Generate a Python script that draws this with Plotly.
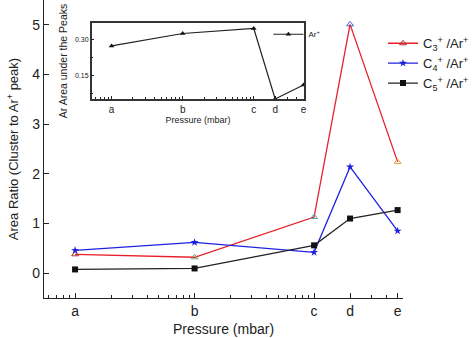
import plotly.graph_objects as go

# Data
categories = ["a", "b", "c", "d", "e"]
pressure = [1e-4, 1e-3, 1e-2, 2e-2, 5e-2]   # log positions of the labelled pressures
c3 = [0.38, 0.32, 1.13, 5.01, 2.24]
c4 = [0.46, 0.62, 0.42, 2.14, 0.85]
c5 = [0.075, 0.095, 0.56, 1.10, 1.27]
ar = [0.275, 0.327, 0.348, 0.054, 0.112]
c3_marker_colors = ["#b03030", "#70a070", "#50a0a8", "#5060d0", "#e8a040"]

FONT = "Liberation Sans, Arial, Helvetica, sans-serif"

minor_vals = [m * 10 ** e for e in range(-5, -1) for m in range(2, 10)]
minor_vals = [v for v in minor_vals if 5.5e-5 <= v <= 5.2e-2]

fig = go.Figure()

fig.add_trace(go.Scatter(
    x=pressure, y=c3, mode="lines+markers", name="C<sub>3</sub><sup>+</sup> /Ar<sup>+</sup>",
    line=dict(color="#e8202a", width=1.3),
    marker=dict(symbol="triangle-up-open", size=6, color=c3_marker_colors,
                line=dict(color=c3_marker_colors, width=1)),
    legend="legend"))
fig.add_trace(go.Scatter(
    x=pressure, y=c4, mode="lines+markers", name="C<sub>4</sub><sup>+</sup> /Ar<sup>+</sup>",
    line=dict(color="#2020e0", width=1.3),
    marker=dict(symbol="star", size=6, color="#2020e0"),
    legend="legend"))
fig.add_trace(go.Scatter(
    x=pressure, y=c5, mode="lines+markers", name="C<sub>5</sub><sup>+</sup> /Ar<sup>+</sup>",
    line=dict(color="#222222", width=1.3),
    marker=dict(symbol="square", size=6, color="#111111"),
    legend="legend"))

fig.add_trace(go.Scatter(
    x=pressure, y=ar, mode="lines+markers", name="Ar<sup>+</sup>",
    line=dict(color="#222222", width=1.2),
    marker=dict(symbol="triangle-up", size=5, color="#111111"),
    xaxis="x2", yaxis="y2", legend="legend2", cliponaxis=False))

fig.update_layout(
    width=474, height=338,
    margin=dict(l=44, r=62, t=0, b=40),
    paper_bgcolor="white", plot_bgcolor="white",
    font=dict(family=FONT, color="#222222"),
    xaxis=dict(
        type="log", range=[-4.26, -1.256],
        tickvals=pressure, ticktext=categories,
        ticks="inside", ticklen=5, tickwidth=1, tickcolor="#222",
        minor=dict(tickvals=minor_vals, ticks="inside", ticklen=3, tickcolor="#222"),
        showline=True, linecolor="#222", linewidth=1.3, mirror=False,
        showgrid=False, zeroline=False,
        tickfont=dict(size=14),
        title=dict(text="Pressure (mbar)", font=dict(size=14), standoff=6),
    ),
    yaxis=dict(
        range=[-0.5, 5.5], tickvals=[0, 1, 2, 3, 4, 5],
        ticks="inside", ticklen=5, tickcolor="#222",
        showline=True, linecolor="#222", linewidth=1.3, mirror=False,
        showgrid=False, zeroline=False,
        tickfont=dict(size=14),
        title=dict(text="Area Ratio (Cluster to Ar<sup>+</sup> peak)", font=dict(size=13), standoff=10),
    ),
    xaxis2=dict(
        domain=[0.133, 0.7255], anchor="y2",
        type="log", range=[-4.279, -1.287],
        tickvals=pressure, ticktext=categories,
        ticks="inside", ticklen=3, tickcolor="#222",
        minor=dict(tickvals=[v for v in minor_vals if v > 5.3e-5], ticks="inside", ticklen=2, tickcolor="#222"),
        showline=True, linecolor="#333", linewidth=1.5, mirror=True,
        showgrid=False, zeroline=False,
        tickfont=dict(size=10),
        title=dict(text="Pressure (mbar)", font=dict(size=9), standoff=2),
    ),
    yaxis2=dict(
        domain=[0.668, 0.923], anchor="x2",
        range=[0.054, 0.371], tickvals=[0.15, 0.30], tickformat=".2f",
        ticks="inside", ticklen=3, tickcolor="#222",
        minor=dict(tickvals=[0.075, 0.225], ticks="inside", ticklen=2, tickcolor="#222"),
        showline=True, linecolor="#333", linewidth=1.5, mirror=True,
        showgrid=False, zeroline=False,
        tickfont=dict(size=7),
        title=dict(text="Ar Area under the Peaks", font=dict(size=10.5), standoff=5),
    ),
    legend=dict(x=0.945, y=0.905, xanchor="left", yanchor="top",
                bgcolor="rgba(0,0,0,0)", font=dict(size=13), tracegroupgap=0,
                itemwidth=30),
    legend2=dict(x=0.625, y=0.885, xanchor="left", yanchor="middle",
                 bgcolor="rgba(0,0,0,0)", font=dict(size=8), itemwidth=30),
    showlegend=True,
)

fig.write_html("out.html")
